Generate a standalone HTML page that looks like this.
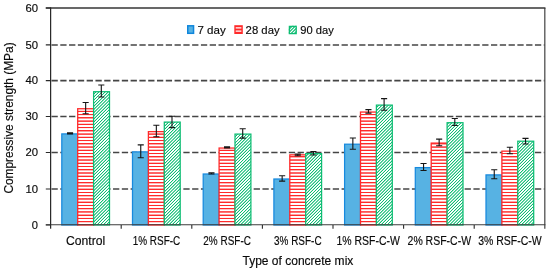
<!DOCTYPE html>
<html lang="en"><head><meta charset="utf-8"><title>Compressive strength chart</title>
<style>html,body{margin:0;padding:0;background:#fff;}body{width:550px;height:270px;overflow:hidden;}svg{display:block;}text{font-family:"Liberation Sans",sans-serif;fill:#0a0a0a;stroke:#0a0a0a;stroke-width:0.16px;}</style>
</head><body>
<svg width="550" height="270" viewBox="0 0 550 270">
<rect x="0" y="0" width="550" height="270" fill="#ffffff"/>
<defs><linearGradient id="rh" gradientUnits="userSpaceOnUse" x1="0" y1="30.227" x2="0" y2="33.472" spreadMethod="repeat"><stop offset="0" stop-color="#ff2a2a"/><stop offset="0.1" stop-color="#ff2a2a"/><stop offset="0.3" stop-color="#ffffff"/><stop offset="0.7" stop-color="#ffffff"/><stop offset="0.9" stop-color="#ff2a2a"/><stop offset="1" stop-color="#ff2a2a"/></linearGradient>
<linearGradient id="gh" gradientUnits="userSpaceOnUse" x1="0" y1="6.790" x2="1.560" y2="8.350" spreadMethod="repeat"><stop offset="0" stop-color="#0ebd73"/><stop offset="0.09" stop-color="#0ebd73"/><stop offset="0.33" stop-color="#ffffff"/><stop offset="0.6699999999999999" stop-color="#ffffff"/><stop offset="0.91" stop-color="#0ebd73"/><stop offset="1" stop-color="#0ebd73"/></linearGradient></defs>
<line x1="50.6" y1="189.00" x2="544.8" y2="189.00" stroke="#454545" stroke-width="1.55" stroke-dasharray="6.28 2.51" stroke-dashoffset="-0.9"/>
<line x1="50.6" y1="152.50" x2="544.8" y2="152.50" stroke="#454545" stroke-width="1.55" stroke-dasharray="6.28 2.51" stroke-dashoffset="-0.9"/>
<line x1="50.6" y1="116.50" x2="544.8" y2="116.50" stroke="#454545" stroke-width="1.55" stroke-dasharray="6.28 2.51" stroke-dashoffset="-0.9"/>
<line x1="50.6" y1="80.60" x2="544.8" y2="80.60" stroke="#454545" stroke-width="1.55" stroke-dasharray="6.28 2.51" stroke-dashoffset="-0.9"/>
<line x1="50.6" y1="44.90" x2="544.8" y2="44.90" stroke="#454545" stroke-width="1.55" stroke-dasharray="6.28 2.51" stroke-dashoffset="-0.9"/>
<path d="M544.8 8.0 V228.7" fill="none" stroke="#505050" stroke-width="1.3"/>
<path d="M45.800000000000004 8.0 H545.4499999999999" fill="none" stroke="#363636" stroke-width="1.3"/>
<rect x="61.80" y="133.90" width="15.90" height="91.10" fill="#57b2e3" stroke="#178ade" stroke-width="1.25"/>
<rect x="77.70" y="108.75" width="15.90" height="116.25" fill="url(#rh)" stroke="#ff2a2a" stroke-width="1.3"/>
<rect x="93.60" y="91.70" width="15.90" height="133.30" fill="url(#gh)" stroke="#0ebd73" stroke-width="1.25"/>
<path d="M70.05 132.70V133.90M67.00 132.70H73.10M67.00 133.90H73.10" stroke="#161616" stroke-width="1.12" fill="none"/>
<path d="M85.65 102.50V113.70M82.60 102.50H88.70M82.60 113.70H88.70" stroke="#161616" stroke-width="1.12" fill="none"/>
<path d="M101.30 85.00V97.00M98.25 85.00H104.35M98.25 97.00H104.35" stroke="#161616" stroke-width="1.12" fill="none"/>
<rect x="132.50" y="151.90" width="15.90" height="73.10" fill="#57b2e3" stroke="#178ade" stroke-width="1.25"/>
<rect x="148.40" y="131.65" width="15.90" height="93.35" fill="url(#rh)" stroke="#ff2a2a" stroke-width="1.3"/>
<rect x="164.30" y="122.10" width="15.90" height="102.90" fill="url(#gh)" stroke="#0ebd73" stroke-width="1.25"/>
<path d="M140.75 144.90V157.70M137.70 144.90H143.80M137.70 157.70H143.80" stroke="#161616" stroke-width="1.12" fill="none"/>
<path d="M156.35 125.20V136.80M153.30 125.20H159.40M153.30 136.80H159.40" stroke="#161616" stroke-width="1.12" fill="none"/>
<path d="M172.00 116.20V127.60M168.95 116.20H175.05M168.95 127.60H175.05" stroke="#161616" stroke-width="1.12" fill="none"/>
<rect x="203.20" y="174.00" width="15.90" height="51.00" fill="#57b2e3" stroke="#178ade" stroke-width="1.25"/>
<rect x="219.10" y="148.05" width="15.90" height="76.95" fill="url(#rh)" stroke="#ff2a2a" stroke-width="1.3"/>
<rect x="235.00" y="134.10" width="15.90" height="90.90" fill="url(#gh)" stroke="#0ebd73" stroke-width="1.25"/>
<path d="M211.45 172.80V174.00M208.40 172.80H214.50M208.40 174.00H214.50" stroke="#161616" stroke-width="1.12" fill="none"/>
<path d="M227.05 146.85V147.95M224.00 146.85H230.10M224.00 147.95H230.10" stroke="#161616" stroke-width="1.12" fill="none"/>
<path d="M242.70 128.70V138.10M239.65 128.70H245.75M239.65 138.10H245.75" stroke="#161616" stroke-width="1.12" fill="none"/>
<rect x="273.90" y="179.00" width="15.90" height="46.00" fill="#57b2e3" stroke="#178ade" stroke-width="1.25"/>
<rect x="289.80" y="154.85" width="15.90" height="70.15" fill="url(#rh)" stroke="#ff2a2a" stroke-width="1.3"/>
<rect x="305.70" y="153.60" width="15.90" height="71.40" fill="url(#gh)" stroke="#0ebd73" stroke-width="1.25"/>
<path d="M282.15 175.70V181.10M279.10 175.70H285.20M279.10 181.10H285.20" stroke="#161616" stroke-width="1.12" fill="none"/>
<path d="M297.75 154.10V155.80M294.70 154.10H300.80M294.70 155.80H300.80" stroke="#161616" stroke-width="1.12" fill="none"/>
<path d="M313.40 151.60V155.00M310.35 151.60H316.45M310.35 155.00H316.45" stroke="#161616" stroke-width="1.12" fill="none"/>
<rect x="344.60" y="144.20" width="15.90" height="80.80" fill="#57b2e3" stroke="#178ade" stroke-width="1.25"/>
<rect x="360.50" y="112.05" width="15.90" height="112.95" fill="url(#rh)" stroke="#ff2a2a" stroke-width="1.3"/>
<rect x="376.40" y="105.10" width="15.90" height="119.90" fill="url(#gh)" stroke="#0ebd73" stroke-width="1.25"/>
<path d="M352.85 138.00V149.20M349.80 138.00H355.90M349.80 149.20H355.90" stroke="#161616" stroke-width="1.12" fill="none"/>
<path d="M368.45 109.65V113.15M365.40 109.65H371.50M365.40 113.15H371.50" stroke="#161616" stroke-width="1.12" fill="none"/>
<path d="M384.10 98.60V110.20M381.05 98.60H387.15M381.05 110.20H387.15" stroke="#161616" stroke-width="1.12" fill="none"/>
<rect x="415.30" y="167.60" width="15.90" height="57.40" fill="#57b2e3" stroke="#178ade" stroke-width="1.25"/>
<rect x="431.20" y="143.10" width="15.90" height="81.90" fill="url(#rh)" stroke="#ff2a2a" stroke-width="1.3"/>
<rect x="447.10" y="122.70" width="15.90" height="102.30" fill="url(#gh)" stroke="#0ebd73" stroke-width="1.25"/>
<path d="M423.55 163.50V170.50M420.50 163.50H426.60M420.50 170.50H426.60" stroke="#161616" stroke-width="1.12" fill="none"/>
<path d="M439.15 139.15V145.75M436.10 139.15H442.20M436.10 145.75H442.20" stroke="#161616" stroke-width="1.12" fill="none"/>
<path d="M454.80 118.50V125.50M451.75 118.50H457.85M451.75 125.50H457.85" stroke="#161616" stroke-width="1.12" fill="none"/>
<rect x="486.00" y="174.90" width="15.90" height="50.10" fill="#57b2e3" stroke="#178ade" stroke-width="1.25"/>
<rect x="501.90" y="151.15" width="15.90" height="73.85" fill="url(#rh)" stroke="#ff2a2a" stroke-width="1.3"/>
<rect x="517.80" y="141.20" width="15.90" height="83.80" fill="url(#gh)" stroke="#0ebd73" stroke-width="1.25"/>
<path d="M494.25 169.80V178.80M491.20 169.80H497.30M491.20 178.80H497.30" stroke="#161616" stroke-width="1.12" fill="none"/>
<path d="M509.85 147.30V153.70M506.80 147.30H512.90M506.80 153.70H512.90" stroke="#161616" stroke-width="1.12" fill="none"/>
<path d="M525.50 138.35V144.05M522.45 138.35H528.55M522.45 144.05H528.55" stroke="#161616" stroke-width="1.12" fill="none"/>
<path d="M45.800000000000004 224.8 H545.4" fill="none" stroke="#3c3c3c" stroke-width="1.1"/>
<path d="M50.6 7.4 V228.7" fill="none" stroke="#2a2a2a" stroke-width="1.25"/>
<path d="M45.80 225.00H50.60M45.80 189.00H50.60M45.80 152.50H50.60M45.80 116.50H50.60M45.80 80.60H50.60M45.80 44.90H50.60M45.80 8.00H50.60M121.20 225.00V228.70M191.80 225.00V228.70M262.40 225.00V228.70M333.00 225.00V228.70M403.60 225.00V228.70M474.20 225.00V228.70" stroke="#2a2a2a" stroke-width="1.1" fill="none"/>
<text x="38.0" y="228.85" font-size="11.8" text-anchor="end" textLength="6.2" lengthAdjust="spacingAndGlyphs">0</text>
<text x="38.0" y="192.85" font-size="11.8" text-anchor="end" textLength="12.6" lengthAdjust="spacingAndGlyphs">10</text>
<text x="38.0" y="156.35" font-size="11.8" text-anchor="end" textLength="12.6" lengthAdjust="spacingAndGlyphs">20</text>
<text x="38.0" y="120.35" font-size="11.8" text-anchor="end" textLength="12.6" lengthAdjust="spacingAndGlyphs">30</text>
<text x="38.0" y="84.45" font-size="11.8" text-anchor="end" textLength="12.6" lengthAdjust="spacingAndGlyphs">40</text>
<text x="38.0" y="48.75" font-size="11.8" text-anchor="end" textLength="12.6" lengthAdjust="spacingAndGlyphs">50</text>
<text x="38.0" y="11.85" font-size="11.8" text-anchor="end" textLength="12.6" lengthAdjust="spacingAndGlyphs">60</text>
<text x="66.00" y="245.15" font-size="12.1" textLength="39.2" lengthAdjust="spacingAndGlyphs">Control</text>
<text x="132.70" y="245.15" font-size="12.1" textLength="47.6" lengthAdjust="spacingAndGlyphs">1% RSF-C</text>
<text x="203.30" y="245.15" font-size="12.1" textLength="47.6" lengthAdjust="spacingAndGlyphs">2% RSF-C</text>
<text x="274.00" y="245.15" font-size="12.1" textLength="47.6" lengthAdjust="spacingAndGlyphs">3% RSF-C</text>
<text x="336.45" y="245.15" font-size="12.1" textLength="63.5" lengthAdjust="spacingAndGlyphs">1% RSF-C-W</text>
<text x="407.55" y="245.15" font-size="12.1" textLength="63.5" lengthAdjust="spacingAndGlyphs">2% RSF-C-W</text>
<text x="478.15" y="245.15" font-size="12.1" textLength="63.5" lengthAdjust="spacingAndGlyphs">3% RSF-C-W</text>
<text x="242.5" y="265.1" font-size="12.1" textLength="110.8" lengthAdjust="spacingAndGlyphs">Type of concrete mix</text>
<text transform="translate(12.95 193.6) rotate(-90)" x="0" y="0" font-size="12" textLength="151.2" lengthAdjust="spacingAndGlyphs">Compressive strength (MPa)</text>
<rect x="187.75" y="25.8" width="5.8" height="7.5" fill="#57b2e3" stroke="#0f86dc" stroke-width="1.5"/>
<text x="197.4" y="33.75" font-size="11.8" textLength="28.3" lengthAdjust="spacingAndGlyphs">7 day</text>
<rect x="234.3" y="25.2" width="8.5" height="8.8" fill="#ff2a2a"/>
<path d="M235.7 27.9H241.4M235.7 31.2H241.4" stroke="#fff" stroke-width="1.25"/>
<text x="245.6" y="33.75" font-size="11.8" textLength="34.0" lengthAdjust="spacingAndGlyphs">28 day</text>
<clipPath id="cg"><rect x="288.8" y="25.8" width="7.8" height="8.2"/></clipPath>
<rect x="289.4" y="26.4" width="6.8" height="7.2" fill="#fff" stroke="#0ebd73" stroke-width="1.3"/>
<path d="M288 30.4L293.5 24.9M288 33.4L297 24.4M290 34.6L298 26.6M293 34.8L298 29.8" stroke="#0ebd73" stroke-width="1.1" clip-path="url(#cg)"/>
<text x="300.3" y="33.75" font-size="11.8" textLength="33.5" lengthAdjust="spacingAndGlyphs">90 day</text>
</svg></body></html>
